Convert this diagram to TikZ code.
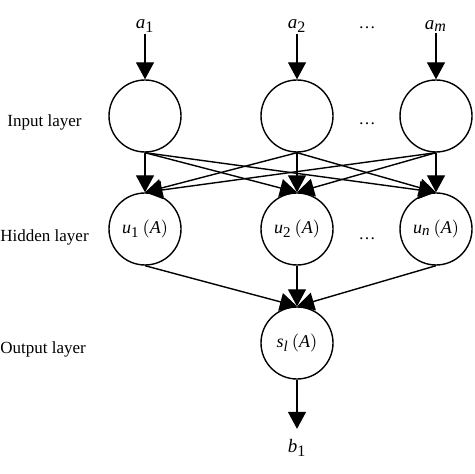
\documentclass[tikz,border=0pt]{standalone}
\usepackage{fontspec}
\setmainfont{Liberation Serif}
\usetikzlibrary{arrows.meta}
\DeclareMathSizes{9}{9}{7.5}{6}
\DeclareMathSizes{9.5}{9.5}{8}{6}
\newcommand{\vv}[1]{\mathit{#1}}
\begin{document}
\begin{tikzpicture}[x=0.5pt,y=-0.5pt,
  neuron/.style={circle,draw,line width=0.7pt,minimum size=36pt,inner sep=0pt,font=\fontsize{9}{10}\selectfont},
  lbl/.style={inner sep=0pt,font=\fontsize{8.5}{10}\selectfont},
  mlbl/.style={inner sep=0pt,font=\fontsize{9.5}{10}\selectfont},
  conn/.style={line width=0.7pt,-{Triangle[length=8.5pt,width=9pt]}}]
\useasboundingbox (0,0) rectangle (474,474);
% input layer
\node[neuron] (i1) at (145,116) {};
\node[neuron] (i2) at (297,116) {};
\node[neuron] (i3) at (436,116) {};
% hidden layer
\node[neuron] (h1) at (145,229) {$\vv{u}_{\mathrm{1}}\,(\vv{A})$};
\node[neuron] (h2) at (297,229) {$\vv{u}_{\mathrm{2}}\,(\vv{A})$};
\node[neuron] (h3) at (436,229) {$\vv{u}_{\vv{n}}\,(\vv{A})$};
% output
\node[neuron] (o) at (297,343) {$\vv{s}_{\vv{l}}\,(\vv{A})$};
% labels
\node[mlbl] (a1) at (145,26) {$\vv{a}_{\mathrm{1}}$};
\node[mlbl] (a2) at (297,26) {$\vv{a}_{\mathrm{2}}$};
\node[mlbl] (am) at (436,26) {$\vv{a}_{\vv{m}}$};
\node[lbl] (d1) at (367,28) {\ldots};
\node[lbl] (d2) at (367,124) {\ldots};
\node[lbl] (d3) at (367,239) {\ldots};
\node[lbl,anchor=west] (L1) at (7,122) {Input layer};
\node[lbl,anchor=west] (L2) at (0,237) {Hidden layer};
\node[lbl,anchor=west] (L3) at (0,349) {Output layer};
\node[mlbl] (b1) at (297,448) {$\vv{b}_{\mathrm{1}}$};
% connectors
\draw[conn] (a1.south) ++(0,1) -- (i1.north);
\draw[conn] (a2.south) ++(0,1) -- (i2.north);
\draw[conn] (am.south) ++(0,1) -- (i3.north);
\foreach \s in {i1,i2,i3}{
  \foreach \t in {h1,h2,h3}{
    \draw[conn] (\s.south) -- (\t.north);
  }
}
\foreach \s in {h1,h2,h3}{
  \draw[conn] (\s.south) -- (o.north);
}
\draw[conn,shorten >=5pt] (o.south) -- (b1.north);
\end{tikzpicture}
\end{document}
